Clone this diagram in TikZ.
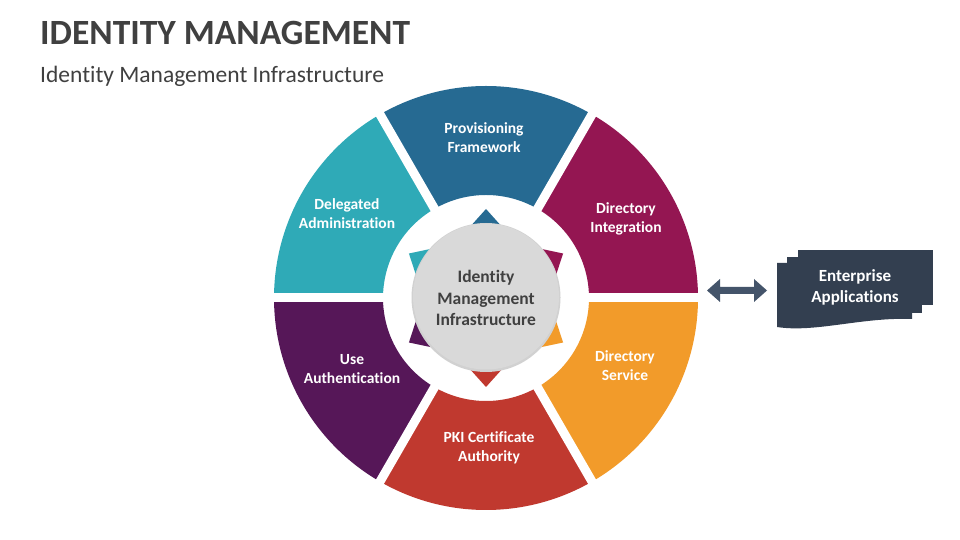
\documentclass[tikz,border=0pt]{standalone}
\usepackage{fontspec}
\setmainfont{Carlito}[RawFeature={-liga;-dlig;-clig}]
\definecolor{cblue}{HTML}{266A92}
\definecolor{cmag}{HTML}{941652}
\definecolor{corange}{HTML}{F29B2A}
\definecolor{cred}{HTML}{C0392F}
\definecolor{cpurple}{HTML}{561758}
\definecolor{cteal}{HTML}{2FAAB7}
\definecolor{cgray}{HTML}{D9D9D9}
\definecolor{ctext}{HTML}{404040}
\definecolor{cbox}{HTML}{333F50}
\definecolor{carrow}{HTML}{44546A}
\begin{document}
\begin{tikzpicture}[x=1pt,y=1pt,
  seglabel/.style={text=white, font=\bfseries\fontsize{15.5}{19}\selectfont, align=center, inner sep=0pt},
  centerlabel/.style={text=ctext, font=\bfseries\fontsize{17.5}{21.5}\selectfont, align=center, inner sep=0pt},
  boxlabel/.style={text=white, font=\bfseries\fontsize{17}{21}\selectfont, align=center, inner sep=0pt}]
\useasboundingbox (0,0) rectangle (960,540);
\fill[white] (0,0) rectangle (960,540);

% titles
\node[anchor=base west, inner sep=0pt, text=ctext, font=\bfseries\fontsize{35.5}{40}\selectfont] (title) at (40,495) {IDENTITY MANAGEMENT};
\node[anchor=base west, inner sep=0pt, text=ctext, font=\fontsize{23.5}{28}\selectfont] (subtitle) at (40,457.5) {Identity Management Infrastructure};

% wheel
\begin{scope}[shift={(486,242)}]
  \foreach \s/\c in {60/cblue, 0/cmag, -60/corange, -120/cred, 180/cpurple, 120/cteal} {
    \pgfmathsetmacro{\e}{\s+60}
    \fill[\c] (\s:212pt) arc[start angle=\s, end angle=\e, radius=212pt]
       -- (\e:103pt) arc[start angle=\e, end angle=\s, radius=103pt] -- cycle;
  }
  \foreach \a in {0,60,...,300} {
    \draw[white, line width=9pt] (\a:96pt) -- (\a:220pt);
  }
  \foreach \a/\c in {90/cblue, 30/cmag, -30/corange, -90/cred, -150/cpurple, 150/cteal} {
    \pgfmathsetmacro{\r}{\a-90}
    \fill[\c, rotate=\r] (0,89) -- (-44,40) -- (44,40) -- cycle;
  }
  \fill[black!18] (0,0.5) circle[radius=74.5pt];
  \fill[cgray] (0,1.5) circle[radius=73pt];
  \node[centerlabel] (center) at (0,0) {Identity\\Management\\Infrastructure};
\end{scope}

\node[seglabel] (prov) at (484,402.5) {Provisioning\\Framework};
\node[seglabel] (dirint) at (626,321) {Directory\\Integration};
\node[seglabel] (dirsvc) at (625,174.5) {Directory\\Service};
\node[seglabel] (pki) at (489,92) {PKI Certificate\\Authority};
\node[seglabel] (useauth) at (352,171) {Use\\Authentication};
\node[seglabel] (deleg) at (347,326) {Delegated\\Administration};

% enterprise applications box
\fill[cbox] (798,290) rectangle (933,235);
\fill[cbox] (787,283) rectangle (922,227);
\fill[cbox] (777,277) -- (912,277) -- (912,221)
   .. controls (862,223) and (815,207) .. (777,213) -- cycle;
\node[boxlabel] (ent) at (855,252.5) {Enterprise\\Applications};

% double arrow
\coordinate (al) at (707,249.5);
\coordinate (ar) at (767,249.5);
\fill[carrow] (al) -- ++(13,11.5) -- ++(0,-8) -- ++(34,0) -- ++(0,8) -- (ar)
   -- ++(-13,-11.5) -- ++(0,8) -- ++(-34,0) -- ++(0,-8) -- cycle;
\end{tikzpicture}
\end{document}
